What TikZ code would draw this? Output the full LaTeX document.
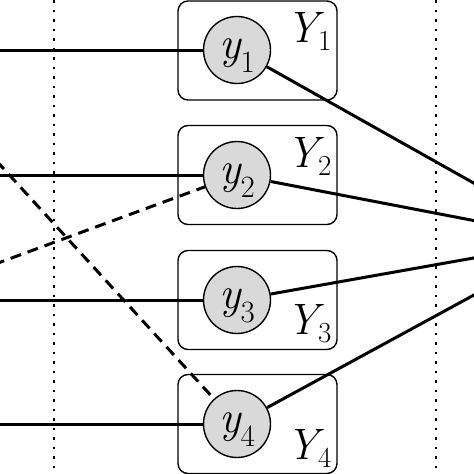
\documentclass[tikz,border=0pt]{standalone}
\usepackage{fontspec}
\usepackage{tikz}

\newcommand{\varname}[2]{{\fontsize{45}{45}\selectfont\itshape #1}\kern0pt\raisebox{-14pt}{\fontsize{31}{31}\selectfont #2}}
\newcommand{\grpname}[2]{{\fontsize{44}{44}\selectfont\itshape #1}\kern0pt\raisebox{-8pt}{\fontsize{29}{29}\selectfont #2}}

\tikzset{
  var/.style={draw, circle, line width=1.4pt, fill=black!15, minimum size=67pt, inner sep=0pt, text height=20pt, text depth=4pt},
  group/.style={draw, rectangle, rounded corners=10pt, line width=1.4pt, minimum width=159pt, minimum height=99pt},
  grplabel/.style={anchor=base west, inner sep=0pt},
  link/.style={line width=3pt},
  cross/.style={line width=3pt, dash pattern=on 11pt off 7pt},
  guide/.style={line width=2pt, dash pattern=on 2.5pt off 7pt}
}

\begin{document}
\begin{tikzpicture}[x=1pt, y=-1pt]
        \useasboundingbox (0,0) rectangle (474,474);
        \clip (0,0) rectangle (474,474);

        % Guides
        \coordinate (gl top) at (54,0);
        \coordinate (gl bot) at (54,474);
        \coordinate (gr top) at (436,0);
        \coordinate (gr bot) at (436,474);
        \draw[guide] (gl top) -- (gl bot);
        \draw[guide] (gr top) -- (gr bot);

        % Groups
        \node[group] (G1) at (257.5,50.5) {};
        \node[group] (G2) at (257.5,175) {};
        \node[group] (G3) at (257.5,300) {};
        \node[group] (G4) at (257.5,424) {};

        \node[grplabel] (Y1) at (286,42) {\grpname{Y}{1}};
        \node[grplabel] (Y2) at (286,167) {\grpname{Y}{2}};
        \node[grplabel] (Y3) at (286,334) {\grpname{Y}{3}};
        \node[grplabel] (Y4) at (286,459) {\grpname{Y}{4}};

        % Variables
        \node[var] (y1) at (237,50) {\varname{y}{1}};
        \node[var] (y2) at (237,175) {\varname{y}{2}};
        \node[var] (y3) at (237,300) {\varname{y}{3}};
        \node[var] (y4) at (237,424) {\varname{y}{4}};

        % Free ends
        \coordinate (in1) at (-40,50);
        \coordinate (in2) at (-40,175);
        \coordinate (in3) at (-40,300);
        \coordinate (in4) at (-40,424);
        \coordinate (up) at (-40,121);
        \coordinate (down) at (-40,277);
        \coordinate (hub) at (575,240);

        % Links
        \draw[link] (in1) -- (y1.west);
        \draw[link] (in2) -- (y2.west);
        \draw[link] (in3) -- (y3.west);
        \draw[link] (in4) -- (y4.west);
        \draw[cross] (up) -- (y4);
        \draw[cross] (down) -- (y2);
        \draw[link] (y1) -- (hub);
        \draw[link] (y2) -- (hub);
        \draw[link] (y3) -- (hub);
        \draw[link] (y4) -- (hub);
    \end{tikzpicture}
\end{document}
